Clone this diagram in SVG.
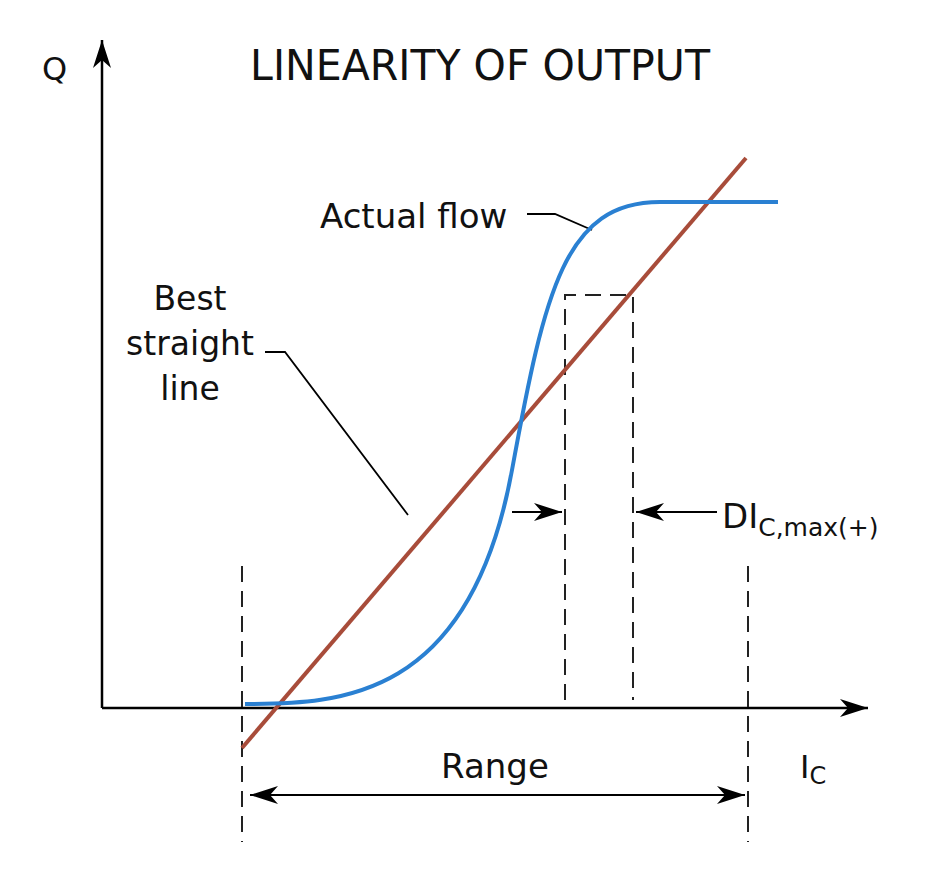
<svg xmlns="http://www.w3.org/2000/svg" width="950" height="869" viewBox="0 0 950 869">
<defs>
<marker id="ah" viewBox="0 0 28 18" refX="28" refY="9" markerWidth="28" markerHeight="18" markerUnits="userSpaceOnUse" orient="auto-start-reverse"><path d="M0,0 L28,9 L0,18 L8,9 Z" fill="#000"/></marker>
</defs>
<style>
text{font-family:"DejaVu Sans","Liberation Sans",sans-serif;fill:#111}
.ax{stroke:#000;stroke-width:2.5;fill:none}
.d{stroke:#222;stroke-width:2;stroke-dasharray:16,9;fill:none}
.l{stroke:#000;stroke-width:1.8;fill:none}
</style>
<rect width="950" height="869" fill="#fff"/>
<text x="480" y="80" font-size="42" text-anchor="middle" textLength="460" lengthAdjust="spacingAndGlyphs">LINEARITY OF OUTPUT</text>
<g id="axes">
<line class="ax" x1="102" y1="708" x2="102" y2="40" marker-end="url(#ah)"/>
<line class="ax" x1="102" y1="708" x2="868" y2="708" marker-end="url(#ah)"/>
<text x="42" y="80" font-size="32">Q</text>
<text x="800" y="778" font-size="32">I<tspan font-size="24" dy="6">C</tspan></text>
</g>
<g id="connectors">
<line class="d" x1="242" y1="566" x2="242" y2="842"/>
<line class="d" x1="748" y1="566" x2="748" y2="842"/>
<path class="d" d="M565,700 V295 H633 V700"/>
<line class="l" x1="250" y1="795" x2="745" y2="795" marker-start="url(#ah)" marker-end="url(#ah)"/>
<line class="l" x1="512" y1="512" x2="562" y2="512" marker-end="url(#ah)"/>
<line class="l" x1="717" y1="512" x2="636" y2="512" marker-end="url(#ah)"/>
<path class="l" d="M527,214 H555 L592,230"/>
<path class="l" d="M265,352 H285 L408,515"/>
</g>
<g id="curves">
<line x1="242" y1="748" x2="746" y2="158" stroke="#a84c3a" stroke-width="4"/>
<path d="M245,704 C340,704 470,700 512,470 C545,290 565,202 660,202 L778,202" stroke="#2a80d2" stroke-width="4" fill="none"/>
</g>
<g id="labels">
<text x="320" y="228" font-size="34">Actual flow</text>
<text x="190" y="310" font-size="33" text-anchor="middle">Best</text>
<text x="190" y="355" font-size="33" text-anchor="middle">straight</text>
<text x="190" y="400" font-size="33" text-anchor="middle">line</text>
<text x="722" y="528" font-size="34">DI<tspan font-size="25" dy="8">C,max(+)</tspan></text>
<text x="495" y="778" font-size="34" text-anchor="middle">Range</text>
</g>
</svg>
